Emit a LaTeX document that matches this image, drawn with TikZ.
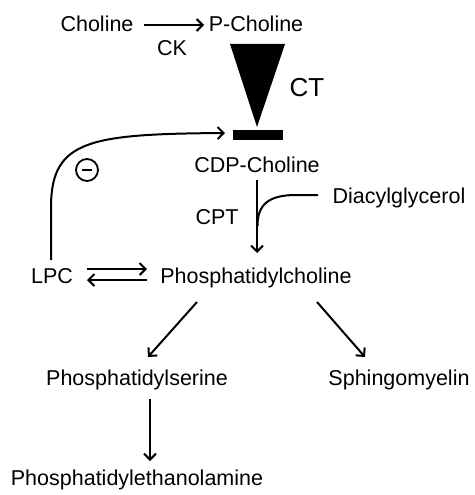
\documentclass[tikz,border=0pt]{standalone}
\usepackage{fontspec}
\setmainfont{Liberation Sans}
\usetikzlibrary{arrows.meta}
\tikzset{
  lbl/.style={anchor=base, inner sep=0pt, font=\fontsize{21.5}{24}\selectfont},
  big/.style={anchor=base, inner sep=0pt, font=\fontsize{26}{30}\selectfont},
  conn/.style={line width=2pt, -{Straight Barb[length=6pt,width=12pt,line width=2pt]}},
  plain/.style={line width=2pt},
}
\begin{document}
\begin{tikzpicture}[x=1pt,y=-1pt]
\useasboundingbox (0,0) rectangle (474,495);
% text nodes
\node[lbl] (chol) at (97,32) {Choline};
\node[lbl] (pchol) at (256,32) {P-Choline};
\node[lbl] (ck) at (172,56) {CK};
\node[big] (ct) at (307,96) {CT};
\node[lbl] (cdp) at (257,172) {CDP-Choline};
\node[lbl] (dag) at (399,203) {Diacylglycerol};
\node[lbl] (cpt) at (217,224) {CPT};
\node[lbl] (lpc) at (52,283) {LPC};
\node[lbl] (pc) at (256,283) {Phosphatidylcholine};
\node[lbl] (ps) at (137,385) {Phosphatidylserine};
\node[lbl] (sm) at (399,385) {Sphingomyelin};
\node[lbl] (pe) at (137,485) {Phosphatidylethanolamine};
% CT triangle and bar
\fill (230,44) -- (285,44) -- (257,127) -- cycle;
\node[fill=black, minimum width=50pt, minimum height=10pt, inner sep=0pt] (bar) at (258,134.5) {};
% minus sign
\node[draw, circle, line width=1.8pt, minimum size=22pt, inner sep=0pt] (minus) at (87,170) {};
\draw[line width=2pt] ([xshift=-5pt]minus.center) -- ([xshift=5pt]minus.center);
% coordinates
\coordinate (c1) at (144,25);
\coordinate (c2) at (204,25);
\coordinate (fbs) at (51,260);
\coordinate (fbe) at (225,133);
\coordinate (v1) at (257,180);
\coordinate (v2) at (257,253);
\coordinate (d1) at (318,195);
\coordinate (d2) at (257.5,226);
\coordinate (e1) at (87,269);
\coordinate (e2) at (147,269);
\coordinate (e3) at (147,280);
\coordinate (e4) at (87,280);
\coordinate (a1) at (197,302);
\coordinate (a2) at (148,357);
\coordinate (b1) at (317,302);
\coordinate (b2) at (365,357);
\coordinate (p1) at (150,399);
\coordinate (p2) at (150,461);
% connectors
\draw[conn] (c1) -- (c2);
\draw[conn] (fbs) -- (51,205) .. controls (52,140) and (90,134) .. (fbe);
\draw[conn] (v1) -- (v2);
\draw[plain] (d1) -- (296,195) .. controls (268,195) and (257.5,205) .. (d2);
\draw[conn] (e1) -- (e2);
\draw[conn] (e3) -- (e4);
\draw[conn] (a1) -- (a2);
\draw[conn] (b1) -- (b2);
\draw[conn] (p1) -- (p2);
\end{tikzpicture}
\end{document}
